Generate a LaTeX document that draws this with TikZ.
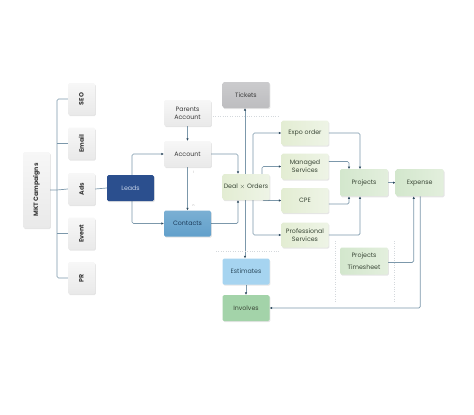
\documentclass[tikz,border=0pt]{standalone}
\usepackage{fontspec}
\setmainfont{Poppins}
\usetikzlibrary{arrows.meta,shadows,calc}
\definecolor{ln}{HTML}{7C98AB}
\definecolor{tipc}{HTML}{2E4A5E}
\definecolor{txt}{HTML}{3A3A3A}
\definecolor{gtxt}{HTML}{3A4737}
\definecolor{dots}{HTML}{D4D8DC}
\definecolor{gtop}{HTML}{F7F7F7}
\definecolor{gbot}{HTML}{E9E9E9}
\definecolor{grl}{HTML}{E3EDD3}
\definecolor{grr}{HTML}{EEF4E6}
\definecolor{prl}{HTML}{D3E7CD}
\definecolor{prr}{HTML}{E3EFDD}
\definecolor{leadc}{HTML}{2B4F8E}
\definecolor{leadt}{HTML}{C8D5EA}
\definecolor{ctop}{HTML}{7AAFD3}
\definecolor{cbot}{HTML}{62A0CB}
\definecolor{ctxt}{HTML}{1E3D5C}
\definecolor{ttop}{HTML}{CBCBCD}
\definecolor{tbot}{HTML}{BDBDC0}
\definecolor{estc}{HTML}{A6D4F0}
\definecolor{estt}{HTML}{2C4B5E}
\definecolor{invc}{HTML}{A3D3A9}
\pgfdeclarelayer{bg}
\pgfdeclarelayer{paper}
\pgfsetlayers{paper,bg,main}
\begin{document}
\begin{tikzpicture}[x=1pt,y=-1pt,
  base/.style={rounded corners=1.5pt, inner sep=0pt, align=center,
    minimum width=47pt, minimum height=26pt,
    font=\fontsize{6.3}{8}\selectfont,
    drop shadow={shadow xshift=0.8pt, shadow yshift=-1.2pt, opacity=0.10, fill=black}},
  graybox/.style={base, top color=gtop, bottom color=gbot, text=txt},
  sidebox/.style={graybox, minimum width=27pt, font=\fontsize{6.3}{7}\selectfont\bfseries},
  greenbox/.style={base, left color=grl, right color=grr, text=gtxt},
  projbox/.style={base, left color=prl, right color=prr, text=gtxt, minimum width=48pt, minimum height=27pt},
  conn/.style={draw=ln, line width=0.7pt, rounded corners=1.5pt},
  arr/.style={conn, -{Latex[length=2.4pt,width=2.4pt,color=tipc]}},
  dotl/.style={draw=dots, line width=0.6pt, dash pattern=on 0.8pt off 1.6pt},
  lab/.style={font=\fontsize{3}{3}\selectfont, text=gray!70, inner sep=0.5pt}
]
\begin{pgfonlayer}{paper}
\fill[white] (0,0) rectangle (474,415);
\end{pgfonlayer}
\useasboundingbox (0,0) rectangle (474,415);

% faint dotted guide lines
\draw[dotl] (213,116.5) -- (280,116.5);
\draw[dotl] (216,251.7) -- (280,251.7);
\draw[dotl] (335,241) -- (335,303);
\draw[dotl] (394.3,241) -- (394.3,303);

% left column
\node[graybox, minimum width=27pt, minimum height=76pt, font=\fontsize{6.3}{7}\selectfont\bfseries] (mkt) at (36.5,190) {\rotatebox{90}{MKT Campaigns}};
\node[sidebox, minimum height=32pt] (seo) at (81.5,99) {\rotatebox{90}{SEO}};
\node[sidebox, minimum height=32pt] (email) at (81.5,143.5) {\rotatebox{90}{Email}};
\node[sidebox, minimum height=32pt] (ads) at (81.5,189) {\rotatebox{90}{Ads}};
\node[sidebox, minimum height=32pt] (event) at (81.5,233.5) {\rotatebox{90}{Event}};
\node[sidebox, minimum height=32pt] (pr) at (81.5,278) {\rotatebox{90}{PR}};
\coordinate (br) at (57,190);

% middle
\node[base, fill=leadc, text=leadt] (leads) at (130.5,188) {Leads};
\node[graybox] (parents) at (187.5,113) {Parents\\Account};
\node[graybox] (account) at (187.5,154) {Account};
\node[base, top color=ctop, bottom color=cbot, text=ctxt] (contacts) at (187.5,223.5) {Contacts};
\node[base, top color=ttop, bottom color=tbot, text=txt] (tickets) at (246,95) {Tickets};
\node[greenbox] (deal) at (246,187) {Deal $\times$ Orders};
\node[base, fill=estc, text=estt] (estimates) at (246,271.5) {Estimates};
\node[base, fill=invc, text=gtxt] (involves) at (246,308) {Involves};

% right
\node[greenbox, minimum height=25pt] (expo) at (305,133) {Expo order};
\node[greenbox] (managed) at (305,166.5) {Managed\\Services};
\node[greenbox, minimum height=25pt] (cpe) at (305,200.5) {CPE};
\node[greenbox, minimum height=25pt] (prof) at (305,235) {Professional\\Services};
\node[projbox] (projects) at (364,182.7) {Projects};
\node[projbox] (expense) at (419.7,182.7) {Expense};
\node[projbox, font=\fontsize{6.3}{12.7}\selectfont] (ts) at (364,261) {Projects\\Timesheet};

\node[lab] (one) at (193.5,172) {1};
\node[lab] (many) at (193.5,205.5) {n};

\begin{pgfonlayer}{bg}
% campaign bracket
\draw[conn] (seo.west) -- (br |- seo) -- (br |- pr) -- (pr.west);
\draw[conn] (br |- email) -- (email.west);
\draw[conn] (br |- event) -- (event.west);
\draw[conn] (mkt.east) -- (br) -- (ads.west);
\draw[conn] (ads.east) -- (leads.west);
% leads
\draw[arr] ([xshift=1.5pt]leads.north) |- (account.west);
\draw[arr] ([xshift=1.5pt]leads.south) |- (contacts.west);
\draw[arr] (parents) -- (account);
\draw[arr] (account) -- (contacts);
\draw[arr] (account.east) -| ([xshift=-8pt]deal.north);
\draw[arr] (contacts.east) -| ([xshift=-8pt]deal.south);
% tickets / estimates
\draw[arr] ([xshift=-1pt]deal.center) -- ([xshift=-1pt]tickets.south);
\draw[arr] ([xshift=-1pt]deal.center) -- ([xshift=-1pt]estimates.north);
\draw[arr] (estimates) -- (involves);
% deal branches
\draw[arr] ([xshift=7pt]deal.center) |- (expo.west);
\draw[arr] ([xshift=7pt]deal.center) |- (prof.west);
\draw[arr] ([xshift=16pt]deal.center) |- (managed.west);
\draw[arr] ([xshift=16pt]deal.center) |- (cpe.west);
% to projects
\draw[arr] (expo.east) -| ([xshift=-4pt]projects.north);
\draw[arr] ([yshift=5pt]managed.east) -| ([xshift=-15pt]projects.north);
\draw[arr] ([yshift=-3.5pt]cpe.east) -| ([xshift=-15pt]projects.south);
\draw[arr] (prof.east) -| ([xshift=-4pt]projects.south);
\draw[arr] (projects) -- (expense);
\draw[arr] ([yshift=-1.5pt]ts.east) -| ([xshift=-6pt]expense.south);
\draw[arr] ([xshift=0.6pt]expense.south) |- (involves.east);
\end{pgfonlayer}
\end{tikzpicture}
\end{document}
